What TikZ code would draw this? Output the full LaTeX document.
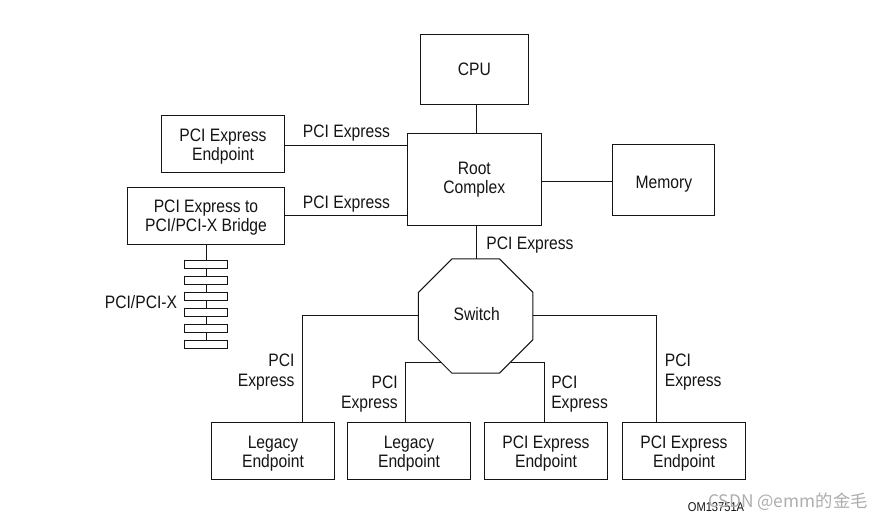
\documentclass[tikz,border=0pt]{standalone}
\usepackage{fontspec}
\setmainfont[FakeStretch=0.87]{Liberation Sans}
\newfontfamily\cjkwm{Noto Sans CJK SC}
\usetikzlibrary{shapes.geometric,backgrounds}
\definecolor{ink}{HTML}{141414}
\newcommand{\lowerby}[1]{\rule{0pt}{#1}}
\tikzset{
  px/.style={x=0.75pt,y=-0.75pt},
  wire/.style={draw=ink,line width=0.75pt},
  boxnode/.style={draw=ink,line width=0.75pt,fill=white,align=center,inner sep=0pt,font=\fontsize{13.5}{14.3}\selectfont,text=ink},
  lbl/.style={inner sep=0pt,font=\fontsize{13.5}{15}\selectfont,text=ink},
  bar/.style={draw=ink,line width=0.75pt,fill=white,inner sep=0pt,minimum width=32.25pt,minimum height=6pt},
}
\begin{document}
\begin{tikzpicture}[px]
\useasboundingbox (0,0) rectangle (882,519);
\node[boxnode,minimum width=81pt,minimum height=52pt] (cpu) at (474.3,69.5) {CPU};
\node[boxnode,minimum width=100.5pt,minimum height=69pt] (root) at (474.3,179.3) {Root\\Complex};
\node[boxnode,minimum width=76.5pt,minimum height=53.2pt] (mem) at (663.3,180) {\lowerby{15.8pt}\hspace{1pt}Memory};
\node[boxnode,minimum width=92.2pt,minimum height=42.8pt] (ep) at (223,144) {\lowerby{12.7pt}PCI Express\\Endpoint};
\node[boxnode,minimum width=117.7pt,minimum height=42.5pt] (br) at (206,215.7) {\lowerby{12.7pt}PCI Express to\\PCI/PCI-X Bridge};
\node[boxnode,regular polygon,regular polygon sides=8,minimum size=92.9pt] (sw) at (475.7,316) {\hspace{1.5pt}Switch\rule[-3pt]{0pt}{0pt}};
\node[boxnode,minimum width=92.2pt,minimum height=43pt] (l1) at (273,451) {\lowerby{12.7pt}Legacy\\Endpoint};
\node[boxnode,minimum width=92.2pt,minimum height=43pt] (l2) at (409,451) {\lowerby{12.7pt}Legacy\\Endpoint};
\node[boxnode,minimum width=92.2pt,minimum height=43pt] (e3) at (546,451) {\lowerby{12.7pt}PCI Express\\Endpoint};
\node[boxnode,minimum width=92.2pt,minimum height=43pt] (e4) at (684,451) {\lowerby{12.7pt}PCI Express\\Endpoint};
\node[bar] (b1) at (205.8,264.3) {};
\node[bar] (b2) at (205.8,280.3) {};
\node[bar] (b3) at (205.8,296.3) {};
\node[bar] (b4) at (205.8,312.3) {};
\node[bar] (b5) at (205.8,328.3) {};
\node[bar] (b6) at (205.8,344.3) {};
\coordinate (ta) at (302.3,422);
\coordinate (tb) at (405,422);
\coordinate (tc) at (544,422);
\coordinate (td) at (656.3,422);
\coordinate (sa) at (441,362);
\coordinate (sb) at (510.5,362);
\coordinate (sl) at (425,315.3);
\coordinate (sr) at (525,315.3);
\coordinate (rs) at (476.7,265);
\coordinate (ra) at (407.5,145);
\coordinate (rb) at (407.5,215);
\coordinate (rm) at (560,181.3);
\coordinate (bt) at (206.7,244);
\begin{scope}[on background layer]
\draw[wire] (cpu.south -| rs) -- (root.north -| rs);
\draw[wire] (root.south -| rs) -- (rs);
\draw[wire] (root.east |- rm) -- (mem.west |- rm);
\draw[wire] (ep.east |- ra) -- (ra);
\draw[wire] (br.east |- rb) -- (rb);
\draw[wire] (bt) -- (bt |- b6.north);
\draw[wire] (sl) -| (ta);
\draw[wire] (sr) -| (td);
\draw[wire] (sa) -| (tb);
\draw[wire] (sb) -| (tc);
\end{scope}
\node[lbl] (t1) at (346.5,133) {PCI Express};
\node[lbl] (t2) at (346.5,204) {PCI Express};
\node[lbl] (t3) at (530,245) {PCI Express};
\node[lbl] (t4) at (141,302.5) {PCI/PCI-X};
\node[lbl,align=right,anchor=east] (t5) at (294.8,372) {PCI\\Express};
\node[lbl,align=right,anchor=east] (t6) at (398,394) {PCI\\Express};
\node[lbl,align=left,anchor=west] (t7) at (551,394) {PCI\\Express};
\node[lbl,align=left,anchor=west] (t8) at (664.7,372) {PCI\\Express};
\node[inner sep=0pt,font=\fontsize{9.6}{9.6}\selectfont,text=ink] (om) at (716,507) {OM13751A};
\node[inner sep=0pt,font=\cjkwm\fontsize{13}{13}\selectfont,text=black!32] (wm) at (788,501.5) {CSDN @emm的金毛};
\end{tikzpicture}
\end{document}
